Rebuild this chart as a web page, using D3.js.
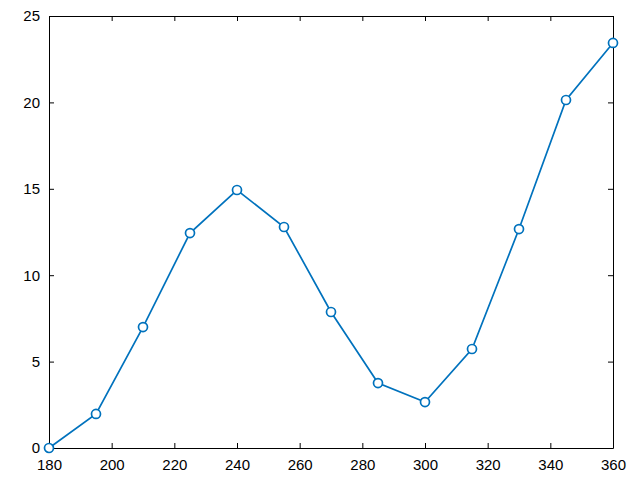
<!DOCTYPE html>
<html>
<head>
<meta charset="utf-8">
<script src="https://cdn.jsdelivr.net/npm/d3@7"></script>
<style>
  body { margin: 0; background: #fff; }
  text { font-family: "Liberation Sans", Arial, sans-serif; }
</style>
</head>
<body>
<div id="chart"></div>
<script>
// data
var xValues = [180, 195, 210, 225, 240, 255, 270, 285, 300, 315, 330, 345, 360];
var yValues = [0, 1.97, 7.0, 12.44, 14.93, 12.79, 7.87, 3.76, 2.66, 5.73, 12.67, 20.14, 23.44];
var xTicks = [180, 200, 220, 240, 260, 280, 300, 320, 340, 360];
var yTicks = [0, 5, 10, 15, 20, 25];

var svgWidth = 640;
var svgHeight = 480;

var margin = { top: 16, right: 27, bottom: 32, left: 49 };
var chartWidth = svgWidth - margin.left - margin.right;
var chartHeight = svgHeight - margin.top - margin.bottom;

var svg = d3.select("#chart")
    .append("svg")
    .attr("width", svgWidth)
    .attr("height", svgHeight);

var chartGroup = svg.append("g")
    .attr("transform", `translate(${margin.left}, ${margin.top})`);

var xScale = d3.scaleLinear().domain([180, 360]).range([0, chartWidth]);
var yScale = d3.scaleLinear().domain([0, 25]).range([chartHeight, 0]);

// axes, ticks pointing inward, mirrored on top/right
var bottomAxis = d3.axisBottom(xScale).tickValues(xTicks).tickSizeInner(-5).tickSizeOuter(0).tickPadding(11);
var leftAxis = d3.axisLeft(yScale).tickValues(yTicks).tickSizeInner(-5).tickSizeOuter(0).tickPadding(9);
var topAxis = d3.axisTop(xScale).tickValues(xTicks).tickSizeInner(-5).tickSizeOuter(0).tickFormat("");
var rightAxis = d3.axisRight(yScale).tickValues(yTicks).tickSizeInner(-5).tickSizeOuter(0).tickFormat("");

chartGroup.append("g").attr("transform", `translate(0, ${chartHeight})`).call(bottomAxis);
chartGroup.append("g").call(leftAxis);
chartGroup.append("g").call(topAxis);
chartGroup.append("g").attr("transform", `translate(${chartWidth}, 0)`).call(rightAxis);

chartGroup.selectAll(".domain").attr("stroke", "#000").attr("stroke-width", 1);
chartGroup.selectAll(".tick line").attr("stroke", "#000");
chartGroup.selectAll(".tick text").attr("font-size", 15).attr("fill", "#000");

var points = xValues.map((x, i) => ({ x: x, y: yValues[i] }));

var line = d3.line().x(d => xScale(d.x)).y(d => yScale(d.y));

chartGroup.append("path")
    .datum(points)
    .attr("d", line)
    .attr("fill", "none")
    .attr("stroke", "#0072BD")
    .attr("stroke-width", 1.7);

chartGroup.selectAll("circle")
    .data(points)
    .enter()
    .append("circle")
    .attr("cx", d => xScale(d.x))
    .attr("cy", d => yScale(d.y))
    .attr("r", 4.5)
    .attr("fill", "#fff")
    .attr("stroke", "#0072BD")
    .attr("stroke-width", 1.7);
</script>
</body>
</html>
